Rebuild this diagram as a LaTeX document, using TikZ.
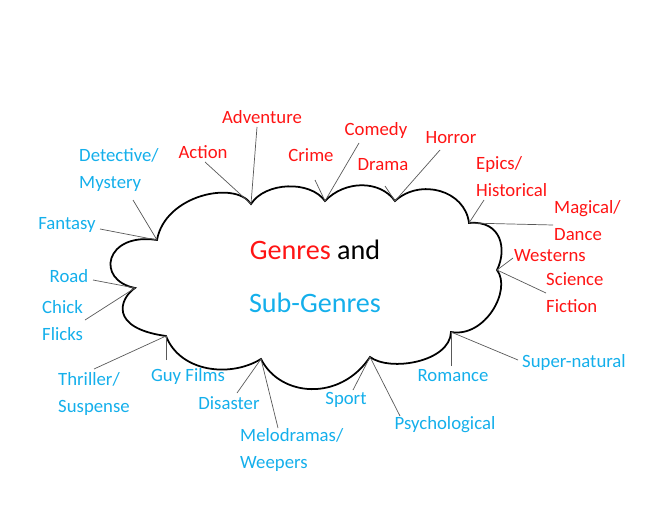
\documentclass[tikz,border=0pt]{standalone}
\usepackage{fontspec}
\setmainfont{Carlito}
\definecolor{gr}{RGB}{255,20,20}
\definecolor{sb}{RGB}{20,175,235}
\begin{document}
\begin{tikzpicture}[x=0.03cm,y=-0.03cm,
 lab/.style={font=\fontsize{16}{23}\selectfont,inner sep=0pt},
 g/.style={lab,text=gr}, s/.style={lab,text=sb},
 ln/.style={draw=gray!70!black,line width=0.6pt}]
\useasboundingbox (0,0) rectangle (645,509);
\coordinate (A) at (157,240); \coordinate (B) at (251,204); \coordinate (C) at (325,201);
\coordinate (D) at (395,201); \coordinate (E) at (469,223); \coordinate (F) at (497,270);
\coordinate (G) at (451,332); \coordinate (H) at (370,357); \coordinate (I) at (261,359);
\coordinate (J) at (166,336); \coordinate (K) at (135,288);
\draw[line width=1.5pt]
 (A) .. controls (165,195) and (235,180) .. (B)
  .. controls (265,182) and (310,180) .. (C)
  .. controls (345,180) and (380,180) .. (D)
  .. controls (420,178) and (465,190) .. (E)
  .. controls (502,220) and (507,250) .. (F)
  .. controls (512,290) and (485,338) .. (G)
  .. controls (450,362) and (390,372) .. (H)
  .. controls (340,402) and (280,397) .. (I)
  .. controls (230,378) and (180,372) .. (J)
  .. controls (108,328) and (120,298) .. (K)
  .. controls (95,280) and (105,232) .. (A) -- cycle;
\node[lab,font=\fontsize{24}{28}\selectfont] (t1) at (315,250) {\textcolor{gr}{Genres} and};
\node[lab,text=sb,font=\fontsize{24}{28}\selectfont] (t2) at (315,303) {Sub-Genres};
\node[g] (adv) at (262,117) {Adventure};
\node[g] (act) at (203,152) {Action};
\node[g] (cri) at (311,155) {Crime};
\node[g] (com) at (376,131) {Comedy};
\node[g] (dra) at (383,165) {Drama};
\node[g] (hor) at (451,138) {Horror};
\node[g,align=left,anchor=west] (epi) at (476,177) {Epics/\\Historical};
\node[g,align=left,anchor=west] (mag) at (554,221) {Magical/\\Dance};
\node[g] (wes) at (550,256) {Westerns};
\node[g,align=left,anchor=west] (sci) at (546,293) {Science\\Fiction};
\node[s] (sup) at (574,362) {Super-natural};
\node[s] (rom) at (453,376) {Romance};
\node[s] (psy) at (445,425) {Psychological};
\node[s] (spo) at (346,400) {Sport};
\node[s,align=left,anchor=west] (mel) at (240,450) {Melodramas/\\Weepers};
\node[s] (dis) at (229,403) {Disaster};
\node[s] (guy) at (188,376) {Guy Films};
\node[s,align=left,anchor=west] (thr) at (58,394) {Thriller/\\Suspense};
\node[s,align=left,anchor=west] (chi) at (42,321) {Chick\\Flicks};
\node[s] (roa) at (69,276) {Road};
\node[s] (fan) at (67,225) {Fantasy};
\node[s,align=left,anchor=west] (det) at (79,170) {Detective/\\Mystery};
\draw[ln] (257,127) -- (B); \draw[ln] (205,162) -- (B);
\draw[ln] (315,180) -- (C); \draw[ln] (359,143) -- (C);
\draw[ln] (385,186) -- (D); \draw[ln] (440,150) -- (D);
\draw[ln] (484,200) -- (E); \draw[ln] (553,225) -- (E);
\draw[ln] (513,258) -- (F); \draw[ln] (546,293) -- (F);
\draw[ln] (518,360) -- (G); \draw[ln] (451,366) -- (G);
\draw[ln] (400,416) -- (H); \draw[ln] (353,390) -- (H);
\draw[ln] (278,428) -- (I); \draw[ln] (237,393) -- (I);
\draw[ln] (166,360) -- (J); \draw[ln] (94,369) -- (J);
\draw[ln] (85,320) -- (K); \draw[ln] (93,280) -- (K);
\draw[ln] (100,229) -- (A); \draw[ln] (133,200) -- (A);
\end{tikzpicture}
\end{document}
